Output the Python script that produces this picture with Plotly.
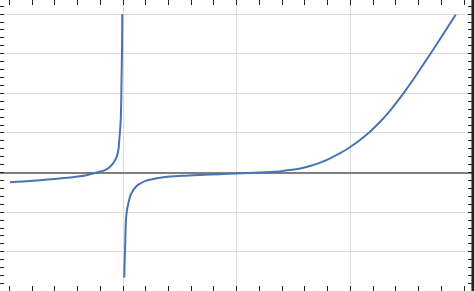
import plotly.graph_objects as go

# Left branch (before the vertical asymptote)
x_left = [-0.994, -0.818, -0.642, -0.466, -0.334, -0.231, -0.158, -0.114, -0.079,
          -0.055, -0.040, -0.033, -0.026, -0.020, -0.016, -0.013, -0.009, -0.006]
y_left = [-0.247, -0.215, -0.172, -0.126, -0.076, 0.005, 0.063, 0.146, 0.265,
          0.40, 0.58, 0.82, 1.05, 1.33, 1.75, 2.34, 3.0, 4.0]

# Right branch (after the asymptote)
x_right = [0.011, 0.014, 0.018, 0.026, 0.035, 0.047, 0.065, 0.091, 0.120, 0.150,
           0.200, 0.300, 0.413, 0.550, 0.677, 0.850, 1.003, 1.100, 1.205, 1.300,
           1.390, 1.469, 1.560, 1.645, 1.735, 1.821, 1.910, 1.996, 2.085, 2.172,
           2.260, 2.348, 2.465, 2.580, 2.700, 2.810, 2.926]
y_right = [-2.65, -2.30, -1.96, -1.20, -0.95, -0.78, -0.58, -0.44, -0.34, -0.28,
           -0.21, -0.145, -0.100, -0.078, -0.063, -0.040, -0.025, -0.012, 0.0, 0.016,
           0.036, 0.063, 0.105, 0.164, 0.250, 0.360, 0.489, 0.639, 0.821, 1.030,
           1.276, 1.558, 1.991, 2.463, 2.979, 3.463, 3.985]

x_grid = [0, 1, 2]
y_grid = [-2, -1, 0, 1, 2, 3, 4]
x_minor = [round(-1 + 0.2 * i, 2) for i in range(21)]
y_minor = [round(-3 + 0.2 * i, 2) for i in range(38)]

line_color = "#4a74b1"

fig = go.Figure()
fig.add_trace(go.Scatter(x=x_left, y=y_left, mode="lines",
                         line=dict(color=line_color, width=2, shape="spline", smoothing=0.8),
                         hoverinfo="skip"))
fig.add_trace(go.Scatter(x=x_right, y=y_right, mode="lines",
                         line=dict(color=line_color, width=2, shape="spline", smoothing=0.8),
                         hoverinfo="skip"))

fig.update_layout(
    width=474, height=291,
    margin=dict(l=0, r=2, t=0, b=0),
    paper_bgcolor="white", plot_bgcolor="white",
    showlegend=False,
    xaxis=dict(range=[-1.082, 3.07], tickvals=x_grid, showticklabels=False,
               showgrid=True, gridcolor="#d9d9d9", gridwidth=1, zeroline=False,
               ticks="inside", ticklen=5, tickcolor="#222", mirror="ticks",
               minor=dict(tickvals=x_minor, ticks="inside", ticklen=5,
                          tickcolor="#222", showgrid=False)),
    yaxis=dict(range=[-2.99, 4.356], tickvals=y_grid, showticklabels=False,
               showgrid=True, gridcolor="#d9d9d9", gridwidth=1,
               zeroline=True, zerolinecolor="#7f7f7f", zerolinewidth=1.5,
               ticks="inside", ticklen=4, tickcolor="#222", mirror="ticks",
               minor=dict(tickvals=y_minor, ticks="inside", ticklen=4,
                          tickcolor="#222", showgrid=False)),
    shapes=[dict(type="line", xref="paper", yref="paper", x0=1.002, x1=1.002,
                 y0=0, y1=1, line=dict(color="#222", width=3))],
)

fig.write_html("out.html")
